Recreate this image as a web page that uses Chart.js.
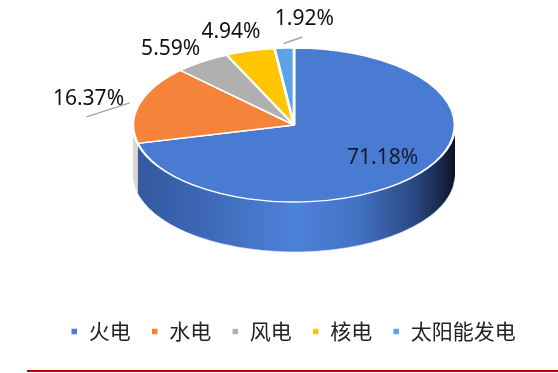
<!DOCTYPE html>
<html>
<head>
<meta charset="utf-8">
<script src="https://cdn.jsdelivr.net/npm/chart.js@4.4.0/dist/chart.umd.min.js"></script>
<style>
    body { margin: 0; background: #fff; }
    #wrap { position: relative; width: 558px; height: 373px; }
    #redLine { position: absolute; left: 27px; right: 0; top: 370px; height: 2px; background: #c00000; }
</style>
</head>
<body>
<div id="wrap">
    <canvas id="pieChart" width="558" height="373"></canvas>
    <div id="redLine"></div>
</div>
<script>
// data
const categories = ['火电', '水电', '风电', '核电', '太阳能发电'];
const shares = [71.18, 16.37, 5.59, 4.94, 1.92];
const valueLabels = ['71.18%', '16.37%', '5.59%', '4.94%', '1.92%'];

const sliceColors = ['#4a7bd3', '#f5843a', '#b0b0b0', '#ffc600', '#5ba2e6'];

// where the flattened pie sits on the page
const CX = 294, CY = 125, RX = 161, RY = 77, DEPTH = 50;

// label placement (radius factor on the ellipse, small nudges, leader line yes/no)
const labelRadius = [0.7, 1.3, 1.3, 1.3, 1.3];
const labelNudge = [[0, 0], [-4, 1], [-4, 6], [-6, 3], [23, -6]];
const showLeader = [false, true, false, false, true];

function ellipsePoint(angle, f) {
    return { x: CX + Math.cos(angle) * RX * f, y: CY + Math.sin(angle) * RY * f };
}

// draws the side wall, squashes the pie into an ellipse, then writes the labels
const pie3d = {
    id: 'pie3d',
    beforeDatasetsDraw(chart) {
        const ctx = chart.ctx;
        const arcs = chart.getDatasetMeta(0).data;
        const first = arcs[0].getProps(['x', 'y', 'outerRadius'], true);

        // side wall, only the front half (0..PI) is visible
        arcs.forEach((arc, i) => {
            const p = arc.getProps(['startAngle', 'endAngle'], true);
            let a0 = Math.max(p.startAngle, 0);
            let a1 = Math.min(p.endAngle, Math.PI);
            if (a1 <= a0) return;
            let fill;
            if (i === 0) {
                fill = ctx.createLinearGradient(CX - RX, 0, CX + RX, 0);
                fill.addColorStop(0, '#34589e');
                fill.addColorStop(0.2, '#3c66b4');
                fill.addColorStop(0.5, '#4d82da');
                fill.addColorStop(0.7, '#4272c4');
                fill.addColorStop(0.88, '#2a4780');
                fill.addColorStop(0.96, '#16264a');
                fill.addColorStop(1, '#0a1224');
            } else {
                fill = '#ddd6cf';
            }
            ctx.save();
            ctx.beginPath();
            ctx.ellipse(CX, CY, RX, RY, 0, a0, a1, false);
            ctx.ellipse(CX, CY + DEPTH, RX, RY, 0, a1, a0, true);
            ctx.closePath();
            ctx.fillStyle = fill;
            ctx.fill();
            ctx.restore();
        });

        // thin light rim along the bottom edge
        ctx.save();
        ctx.beginPath();
        ctx.ellipse(CX, CY + DEPTH, RX, RY, 0, 0.05, Math.PI - 0.3, false);
        ctx.strokeStyle = 'rgba(220,230,250,0.6)';
        ctx.lineWidth = 1;
        ctx.stroke();
        ctx.restore();

        ctx.save();
        ctx.translate(CX, CY);
        ctx.scale(RX / first.outerRadius, RY / first.outerRadius);
        ctx.translate(-first.x, -first.y);
    },
    afterDatasetsDraw(chart) {
        const ctx = chart.ctx;
        ctx.restore();
        const arcs = chart.getDatasetMeta(0).data;
        ctx.save();
        ctx.font = '21px "Noto Sans", "Liberation Sans", sans-serif';
        ctx.textAlign = 'center';
        ctx.textBaseline = 'middle';
        arcs.forEach((arc, i) => {
            const p = arc.getProps(['startAngle', 'endAngle'], true);
            const mid = (p.startAngle + p.endAngle) / 2;
            const pos = ellipsePoint(mid, labelRadius[i]);
            const lx = pos.x + labelNudge[i][0];
            const ly = pos.y + labelNudge[i][1];
            if (showLeader[i]) {
                const s = ellipsePoint(mid, 1.06);
                ctx.beginPath();
                ctx.moveTo(s.x, s.y);
                ctx.lineTo(lx - 2, ly + 18);
                ctx.strokeStyle = '#a6a6a6';
                ctx.lineWidth = 1.5;
                ctx.stroke();
            }
            ctx.fillStyle = i === 0 ? '#141a2e' : '#111111';
            ctx.fillText(valueLabels[i], lx, ly);
        });
        ctx.restore();
    }
};

const ctx = document.getElementById('pieChart').getContext('2d');
new Chart(ctx, {
    type: 'pie',
    data: {
        labels: categories,
        datasets: [{
            data: shares,
            backgroundColor: sliceColors,
            borderColor: '#ffffff',
            borderWidth: 2.5
        }]
    },
    options: {
        responsive: false,
        animation: false,
        layout: { padding: { left: 28, right: 0, top: 0, bottom: 21 } },
        plugins: {
            tooltip: { enabled: false },
            legend: {
                position: 'bottom',
                labels: {
                    boxWidth: 8,
                    boxHeight: 8,
                    padding: 20,
                    color: '#222',
                    font: { size: 21, family: '"Noto Sans CJK SC", "Noto Sans", sans-serif' }
                }
            }
        }
    },
    plugins: [pie3d]
});
</script>
</body>
</html>
